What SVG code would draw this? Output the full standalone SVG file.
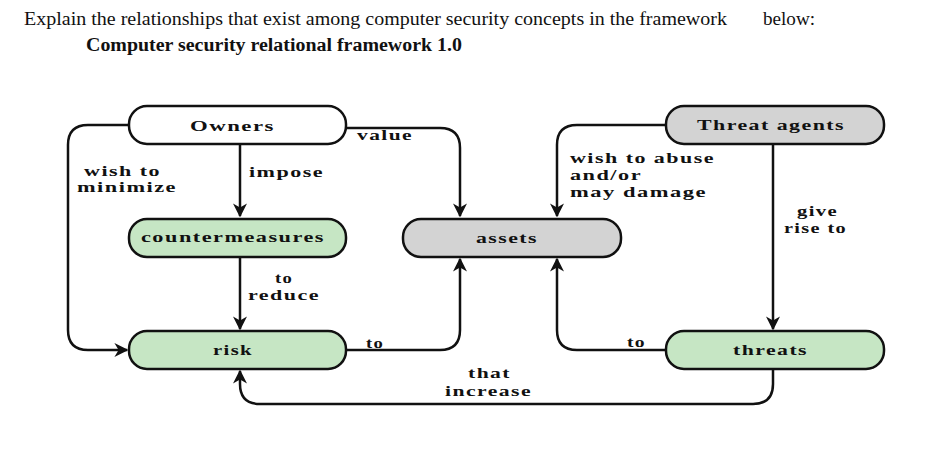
<svg xmlns="http://www.w3.org/2000/svg" width="933" height="460" viewBox="0 0 933 460">
<style>
.n{stroke:#111;stroke-width:2.5}
.g{fill:#c6e6c4}.gr{fill:#d3d3d3}.w{fill:#fff}
.t{font-family:"Liberation Serif",serif;font-weight:bold;font-size:15px;letter-spacing:1px;fill:#111}
.c{fill:none;stroke:#111;stroke-width:2.5}
.h{font-family:"Liberation Serif",serif;font-size:18px;fill:#111}
</style>
<defs>
<marker id="b" viewBox="0 0 10 10" refX="9" refY="5" markerWidth="14" markerHeight="14" markerUnits="userSpaceOnUse" orient="auto"><path d="M0,0L10,5L0,10L3,5z" fill="#111"/></marker></defs>
<rect width="933" height="460" fill="#fff"/>
<text class="h" x="24" y="25" textLength="703" lengthAdjust="spacingAndGlyphs">Explain the relationships that exist among computer security concepts in the framework</text>
<text class="h" x="763" y="25" textLength="52" lengthAdjust="spacingAndGlyphs">below:</text>
<text class="h" x="86" y="51" font-weight="bold" textLength="376" lengthAdjust="spacingAndGlyphs">Computer security relational framework 1.0</text>
<g id="connectors">
<path class="c" d="M129,125H88Q68,125 68,145V330Q68,350 88,350H127" marker-end="url(#b)"/>
<path class="c" d="M240,144V216" marker-end="url(#b)"/>
<path class="c" d="M240,257V329" marker-end="url(#b)"/>
<path class="c" d="M346,128H440Q460,128 460,148V216" marker-end="url(#b)"/>
<path class="c" d="M346,350H440Q460,350 460,330V259" marker-end="url(#b)"/>
<path class="c" d="M666,125H577Q557,125 557,145V216" marker-end="url(#b)"/>
<path class="c" d="M666,350H577Q557,350 557,330V259" marker-end="url(#b)"/>
<path class="c" d="M773,144V329" marker-end="url(#b)"/>
<path class="c" d="M773,369V384Q773,404 753,404H260Q240,404 240,384V371" marker-end="url(#b)"/>
</g>
<g id="owners"><rect class="n w" x="129" y="106" width="217" height="38" rx="18"/><text class="t" x="190" y="131" textLength="85" lengthAdjust="spacingAndGlyphs">Owners</text></g>
<g id="countermeasures"><rect class="n g" x="129" y="219" width="217" height="38" rx="18"/><text class="t" x="141" y="242" textLength="184" lengthAdjust="spacingAndGlyphs">countermeasures</text></g>
<g id="risk"><rect class="n g" x="129" y="331" width="217" height="38" rx="18"/><text class="t" x="213" y="355" textLength="40" lengthAdjust="spacingAndGlyphs">risk</text></g>
<g id="assets"><rect class="n gr" x="403" y="219" width="218" height="38" rx="18"/><text class="t" x="476" y="243" textLength="62" lengthAdjust="spacingAndGlyphs">assets</text></g>
<g id="threat-agents"><rect class="n gr" x="666" y="106" width="218" height="38" rx="18"/><text class="t" x="697" y="130" textLength="148" lengthAdjust="spacingAndGlyphs">Threat agents</text></g>
<g id="threats"><rect class="n g" x="666" y="331" width="218" height="38" rx="18"/><text class="t" x="733" y="355" textLength="75" lengthAdjust="spacingAndGlyphs">threats</text></g>
<g id="labels">
<text class="t" x="357" y="140" textLength="56" lengthAdjust="spacingAndGlyphs">value</text>
<text class="t" x="84" y="176" textLength="77" lengthAdjust="spacingAndGlyphs">wish to</text>
<text class="t" x="77" y="192" textLength="100" lengthAdjust="spacingAndGlyphs">minimize</text>
<text class="t" x="249" y="177" textLength="75" lengthAdjust="spacingAndGlyphs">impose</text>
<text class="t" x="275" y="283" textLength="18" lengthAdjust="spacingAndGlyphs">to</text>
<text class="t" x="248" y="300" textLength="72" lengthAdjust="spacingAndGlyphs">reduce</text>
<text class="t" x="366" y="348" textLength="18" lengthAdjust="spacingAndGlyphs">to</text>
<text class="t" x="468" y="378" textLength="43" lengthAdjust="spacingAndGlyphs">that</text>
<text class="t" x="445" y="396" textLength="87" lengthAdjust="spacingAndGlyphs">increase</text>
<text class="t" x="570" y="163" textLength="145" lengthAdjust="spacingAndGlyphs">wish to abuse</text>
<text class="t" x="570" y="180" textLength="72" lengthAdjust="spacingAndGlyphs">and/or</text>
<text class="t" x="570" y="197" textLength="137" lengthAdjust="spacingAndGlyphs">may damage</text>
<text class="t" x="797" y="216" textLength="41" lengthAdjust="spacingAndGlyphs">give</text>
<text class="t" x="784" y="233" textLength="63" lengthAdjust="spacingAndGlyphs">rise to</text>
<text class="t" x="627" y="347" textLength="19" lengthAdjust="spacingAndGlyphs">to</text>
</g>
</svg>
